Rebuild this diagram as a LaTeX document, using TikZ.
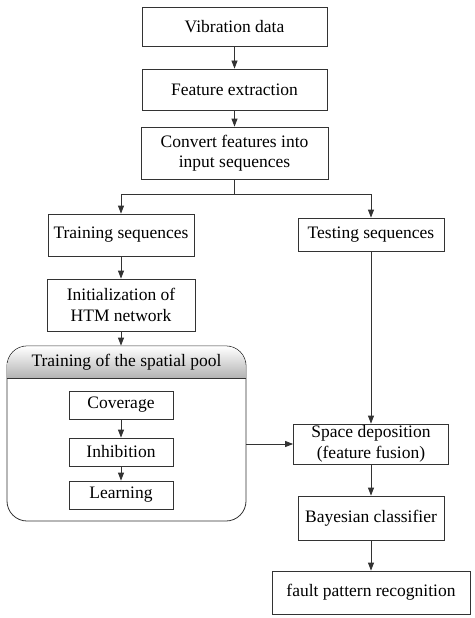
\documentclass[tikz,border=0pt]{standalone}
\usepackage{fontspec}
\setmainfont{Liberation Serif}
\usetikzlibrary{arrows.meta}

\begin{document}
\begin{tikzpicture}[x=1pt,y=1pt,
  every node/.style={font=\fontsize{17.5}{20.5}\selectfont,align=center,inner sep=0pt},
  stepbox/.style={draw=black!80,line width=0.8pt,minimum width=#1},
  arr/.style={-{Triangle[length=8pt,width=6pt]},draw=black!80,line width=0.8pt},
  link/.style={draw=black!80,line width=0.8pt},]

  \useasboundingbox (0,0) rectangle (474,-618);

  % data preparation
  \node[stepbox=185,minimum height=39] (vib) at (234.5,-26.5) {Vibration data};
  \node[stepbox=185,minimum height=41] (feat) at (234.5,-89.5) {Feature extraction};
  \node[stepbox=187,minimum height=52] (conv) at (234.5,-153) {Convert features into\\input sequences};
  \coordinate (split) at (234.5,-194);

  % training branch
  \node[stepbox=146,minimum height=42] (train) at (121,-235) {Training sequences};
  \node[stepbox=148,minimum height=52] (init) at (121,-305) {Initialization of\\HTM network};

  % spatial pool
  \node[draw=black!80,line width=0.8pt,rounded corners=20pt,
    minimum width=239,minimum height=175] (pool) at (126.5,-433.5) {};
  \shade[top color=white,bottom color=black!30] (7.4,-378) -- (7.4,-366)
    arc[start angle=180,end angle=90,radius=19.6] -- (226,-346.4)
    arc[start angle=90,end angle=0,radius=19.6] -- (245.6,-378) -- cycle;
  \draw[link] (pool.west |- 0,-378) -- (pool.east |- 0,-378);
  \node[] (head) at (126.5,-362) {Training of the spatial pool};
  \node[stepbox=104,minimum height=28] (cov) at (121,-405) {Coverage};
  \node[stepbox=104,minimum height=28] (inh) at (121,-452) {Inhibition};
  \node[stepbox=104,minimum height=28] (learn) at (121,-495) {Learning};

  % testing branch
  \node[stepbox=146,minimum height=33] (test) at (371,-234.5) {Testing sequences};
  \node[stepbox=155,minimum height=40] (space) at (371,-444) {Space deposition\\(feature fusion)};
  \node[stepbox=146,minimum height=44] (bayes) at (371,-518) {Bayesian classifier};
  \node[stepbox=198,minimum height=43] (fault) at (371,-592.5) {fault pattern recognition};

  % connectors
  \draw[arr] (vib) -- (feat);
  \draw[arr] (feat) -- (conv);
  \draw[link] (conv) -- (split);
  \draw[arr] (split) -| (train);
  \draw[arr] (split) -| (test);
  \draw[arr] (train) -- (init);
  \draw[arr] (init.south) -- (init.south |- pool.north);
  \draw[arr] (cov) -- (inh);
  \draw[arr] (inh) -- (learn);
  \draw[arr] (test) -- (space);
  \draw[arr] (pool.east |- space.west) -- (space.west);
  \draw[arr] (space) -- (bayes);
  \draw[arr] (bayes) -- (fault);

\end{tikzpicture}
\end{document}
